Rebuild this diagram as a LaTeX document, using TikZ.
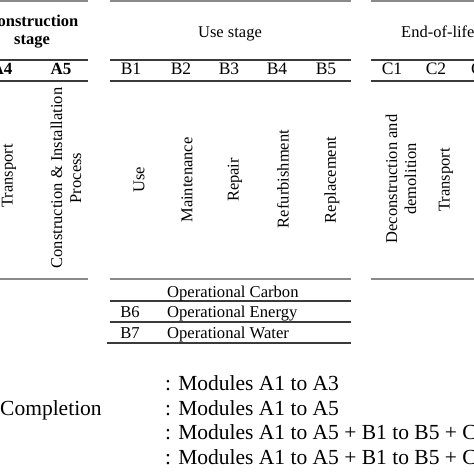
\documentclass[tikz,border=0pt]{standalone}
\usepackage{fontspec}
\setmainfont{Liberation Serif}
\usetikzlibrary{positioning}
\definecolor{rulegray}{HTML}{8A8A8A}
\definecolor{ruledark}{HTML}{3A3A3A}

\begin{document}
\begin{tikzpicture}[x=1pt, y=-1pt,
  grouphead/.style={font=\fontsize{16.5}{18}\selectfont, align=center, inner sep=0pt},
  modlabel/.style={font=\fontsize{17.5}{18}\selectfont, anchor=base, inner sep=0pt},
  rotlabel/.style={font=\fontsize{16.5}{19}\selectfont, rotate=90, align=center, inner sep=0pt},
  oplabel/.style={font=\fontsize{16.6}{18}\selectfont, anchor=base west, inner sep=0pt},
  scopeline/.style={font=\fontsize{21.5}{24}\selectfont, anchor=base west, inner sep=0pt},
  thickrule/.style={rulegray, line width=2.6pt},
  thinrule/.style={ruledark, line width=1.3pt},
]

% Frame
\useasboundingbox (0,0) rectangle (474,474);

% =============================================
% Table rules
% =============================================
\foreach \ya/\sty in {0.8/thickrule, 60/thinrule, 81/thinrule, 279/thickrule} {
  \draw[\sty] (0,\ya) -- (88,\ya);
  \draw[\sty] (110,\ya) -- (351,\ya);
  \draw[\sty] (371,\ya) -- (474,\ya);
}

% Operational rows rules
\draw[thinrule] (110,301) -- (351,301);
\draw[thinrule] (110,322) -- (351,322);
\draw[thinrule] (107,343) -- (351,343);

% =============================================
% Group headers
% =============================================
\node[grouphead, font=\fontsize{16.5}{18}\selectfont\bfseries] (conhead) at (32,32)
  {Construction\\stage};
\node[grouphead, anchor=base] (usehead) at (230,37) {Use stage};
\node[grouphead, anchor=base west] (eolhead) at (401,37) {End-of-life stage};

% =============================================
% Module labels
% =============================================
\node[modlabel, font=\fontsize{17}{18}\selectfont\bfseries, anchor=base east] (a4) at (12.5,74.5) {A4};
\node[modlabel, font=\fontsize{17}{18}\selectfont\bfseries] (a5) at (61,74.5) {A5};
\foreach \m/\xm in {1/131, 2/181, 3/229, 4/277, 5/326} {
  \node[modlabel] (b\m) at (\xm,74.5) {B\m};
}
\node[modlabel] (c1) at (392,74.5) {C1};
\node[modlabel] (c2) at (436,74.5) {C2};
\node[modlabel, anchor=base west] (c3) at (471,74.5) {C3};

% =============================================
% Module names (rotated)
% =============================================
\node[rotlabel] (a4name) at (9,176) {Transport};
\node[rotlabel] (a5name) at (66,178) {Construction \& Installation\\Process};
\node[rotlabel] (b1name) at (139,180) {Use};
\node[rotlabel] (b2name) at (187,180) {Maintenance};
\node[rotlabel] (b3name) at (235,180) {Repair};
\node[rotlabel] (b4name) at (283,179) {Refurbishment};
\node[rotlabel] (b5name) at (332,180) {Replacement};
\node[rotlabel] (c1name) at (401,179) {Deconstruction and\\demolition};
\node[rotlabel] (c2name) at (446,180) {Transport};

% =============================================
% Operational rows
% =============================================
\node[oplabel] (opcarbon) at (167,297) {Operational Carbon};
\node[oplabel, anchor=base] (b6) at (130,317) {B6};
\node[oplabel] (openergy) at (167,317) {Operational Energy};
\node[oplabel, anchor=base] (b7) at (130,338) {B7};
\node[oplabel] (opwater) at (167,338) {Operational Water};

% =============================================
% Scope lines
% =============================================
\node[scopeline] (scope1) at (165,390) {: Modules A1 to A3};
\node[scopeline] (scope2) at (165,415) {: Modules A1 to A5};
\node[scopeline] (scope3) at (165,439) {: Modules A1 to A5 + B1 to B5 + C1 to C4};
\node[scopeline] (scope4) at (165,464) {: Modules A1 to A5 + B1 to B5 + C1 to C4};
\node[scopeline] (complete) at (0,415) {Completion};

\end{tikzpicture}
\end{document}
